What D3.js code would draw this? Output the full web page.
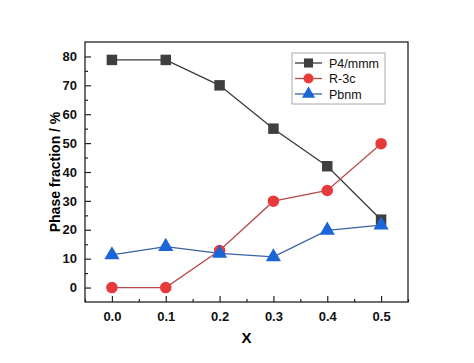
<!DOCTYPE html>
<html>
<head>
<meta charset="utf-8">
<script src="https://cdn.jsdelivr.net/npm/d3@7"></script>
<style>
  body { margin: 0; background: #fff; }
  text { font-family: "Liberation Sans", Arial, sans-serif; }
</style>
</head>
<body>
<div id="chart"></div>
<script>
// data
var xs = [0.0, 0.1, 0.2, 0.3, 0.4, 0.5];
var p4mmm = [78.8, 78.8, 70.0, 55.0, 42.0, 23.5];
var r3c = [0, 0, 12.8, 29.9, 33.6, 49.8];
var pbnm = [11.3, 14.2, 11.8, 10.6, 19.8, 21.6];
var xTicks = [0.0, 0.1, 0.2, 0.3, 0.4, 0.5];
var yTicks = [0, 10, 20, 30, 40, 50, 60, 70, 80];

var W = 474, H = 363,
    L = 85, T = 42, R = 408, B = 302;

var svg = d3.select('#chart').append('svg').attr('width', W).attr('height', H);

var x = d3.scaleLinear().domain([-0.05, 0.55]).range([L, R]);
var y = d3.scaleLinear().domain([-5, 85]).range([B, T]);

// axes, ticks pointing inward
var xAxis = d3.axisBottom(x).tickValues(xTicks).tickFormat(d3.format('.1f')).tickSize(-6).tickPadding(10);
var xMinor = d3.axisBottom(x).tickValues(d3.range(-0.05, 0.56, 0.1)).tickFormat('').tickSize(-3);
var yAxis = d3.axisLeft(y).tickValues(yTicks).tickSize(-6).tickPadding(8);
var yMinor = d3.axisLeft(y).tickValues(d3.range(5, 85, 10)).tickFormat('').tickSize(-3);

function styleAxis(g) {
  g.select('.domain').remove();
  g.selectAll('line').attr('stroke', '#222').attr('stroke-width', 1.2);
  g.selectAll('text').attr('font-size', 13).attr('font-weight', 'bold').attr('fill', '#111');
}

svg.append('g').attr('transform', 'translate(0,' + B + ')').call(xAxis).call(styleAxis);
svg.append('g').attr('transform', 'translate(0,' + B + ')').call(xMinor).call(styleAxis);
svg.append('g').attr('transform', 'translate(' + L + ',0)').call(yAxis).call(styleAxis);
svg.append('g').attr('transform', 'translate(' + L + ',0)').call(yMinor).call(styleAxis);

// frame
svg.append('rect').attr('x', L).attr('y', T).attr('width', R - L).attr('height', B - T)
  .attr('fill', 'none').attr('stroke', '#222').attr('stroke-width', 1.3);

// titles
svg.append('text').attr('x', (L + R) / 2).attr('y', 343).attr('text-anchor', 'middle')
  .attr('font-size', 15).attr('font-weight', 'bold').text('X');
svg.append('text').attr('transform', 'translate(60,' + ((T + B) / 2) + ') rotate(-90)')
  .attr('text-anchor', 'middle').attr('font-size', 14).attr('font-weight', 'bold')
  .text('Phase fraction / %');

var series = [
  {name: 'P4/mmm', values: p4mmm, line: '#3a3a3a', fill: '#3f3f3f', shape: d3.symbolSquare, size: 110},
  {name: 'R-3c', values: r3c, line: '#b84a4a', fill: '#e8393b', shape: d3.symbolCircle, size: 105},
  {name: 'Pbnm', values: pbnm, line: '#3a62a8', fill: '#1a66d8', shape: d3.symbolTriangle, size: 100}
];

var line = d3.line().x(function(d) { return x(d[0]); }).y(function(d) { return y(d[1]); });

series.forEach(function(s) {
  var pts = xs.map(function(v, i) { return [v, s.values[i]]; });
  svg.append('path').datum(pts).attr('d', line)
    .attr('fill', 'none').attr('stroke', s.line).attr('stroke-width', 1.3);
  svg.append('g').selectAll('path').data(pts).enter().append('path')
    .attr('d', d3.symbol().type(s.shape).size(s.size))
    .attr('transform', function(d) { return 'translate(' + x(d[0]) + ',' + y(d[1]) + ')'; })
    .attr('fill', s.fill);
});

// legend
var lg = svg.append('g');
lg.append('rect').attr('x', 292).attr('y', 53).attr('width', 93).attr('height', 51)
  .attr('fill', '#fff').attr('stroke', '#aaa').attr('stroke-width', 1);
series.forEach(function(s, i) {
  var ly = 63 + i * 15.5;
  lg.append('line').attr('x1', 295).attr('x2', 322).attr('y1', ly).attr('y2', ly)
    .attr('stroke', s.line).attr('stroke-width', 1.3);
  lg.append('path').attr('d', d3.symbol().type(s.shape).size(s.size * 0.75))
    .attr('transform', 'translate(308.5,' + ly + ')').attr('fill', s.fill);
  lg.append('text').attr('x', 329).attr('y', ly + 4.5).attr('font-size', 12.5)
    .attr('fill', '#111').text(s.name);
});
</script>
</body>
</html>
